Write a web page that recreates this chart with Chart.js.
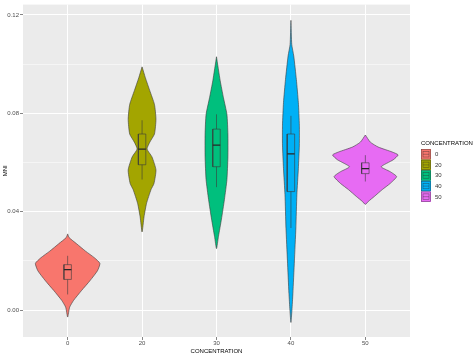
<!DOCTYPE html>
<html><head><meta charset="utf-8">
<script src="https://cdn.jsdelivr.net/npm/chart.js@4.4.0/dist/chart.umd.min.js"></script>
<style>html,body{margin:0;padding:0;background:#fff}#wrap{width:474px;height:356px;position:relative}</style>
</head><body><div id="wrap"><canvas id="c"></canvas></div>
<script>
// ---- data ----
const categories = ['0', '20', '30', '40', '50'];
const yTicks = [0, 0.02, 0.04, 0.06, 0.08, 0.10, 0.12];

// violin outlines: y values (top to bottom) and relative half-width (density)
const violinY0 = [0.031, 0.0295, 0.027, 0.024, 0.0213, 0.019, 0.016, 0.012, 0.008, 0.004, 0.0012, -0.0028];
const violinW0 = [0, 0.044, 0.267, 0.533, 0.8, 0.963, 0.889, 0.667, 0.415, 0.178, 0.059, 0];
const violinY20 = [0.0989, 0.0945, 0.0892, 0.0836, 0.0776, 0.0716, 0.0683, 0.0655, 0.0623, 0.057, 0.0515, 0.049, 0.0434, 0.038, 0.0318];
const violinW20 = [0, 0.098, 0.231, 0.370, 0.415, 0.370, 0.231, 0.148, 0.296, 0.415, 0.356, 0.267, 0.133, 0.059, 0];
const violinY30 = [0.103, 0.0933, 0.0864, 0.0796, 0.0716, 0.0623, 0.053, 0.045, 0.037, 0.030, 0.025];
const violinW30 = [0, 0.11, 0.207, 0.311, 0.341, 0.341, 0.311, 0.237, 0.148, 0.059, 0];
const violinY40 = [0.1178, 0.108, 0.1033, 0.0937, 0.0844, 0.0752, 0.0671, 0.0575, 0.047, 0.0334, 0.020, 0.0068, 0.0, -0.005];
const violinW40 = [0, 0.025, 0.085, 0.163, 0.222, 0.252, 0.252, 0.222, 0.178, 0.148, 0.104, 0.059, 0.03, 0];
const violinY50 = [0.0712, 0.0683, 0.0663, 0.0643, 0.0631, 0.0611, 0.0583, 0.0563, 0.0543, 0.0515, 0.049, 0.0462, 0.0442, 0.043];
const violinW50 = [0, 0.148, 0.385, 0.8, 0.978, 0.83, 0.474, 0.741, 0.933, 0.741, 0.504, 0.267, 0.089, 0];

// boxplot statistics
const whiskerHigh = [0.0221, 0.0772, 0.0796, 0.0790, 0.0630];
const q3 = [0.0185, 0.0716, 0.0736, 0.0716, 0.0599];
const medians = [0.0165, 0.0655, 0.0671, 0.0635, 0.0575];
const q1 = [0.0125, 0.0591, 0.0583, 0.0482, 0.0555];
const whiskerLow = [0.0064, 0.0531, 0.0500, 0.0334, 0.0523];

// ---- styling ----
const colors = ['#F8766D', '#A3A500', '#00BF7D', '#00B0F6', '#E76BF3'];
const violinYs = [violinY0, violinY20, violinY30, violinY40, violinY50];
const violinWs = [violinW0, violinW20, violinW30, violinW40, violinW50];
const MAXHALF = 0.45, BOXHALF = 0.05;
const FONT = '"Liberation Sans", Arial, sans-serif';

const datasets = [];
categories.forEach((c, i) => {
  const p = i + 1;
  const ys = violinYs[i], ws = violinWs[i];
  const pts = [];
  for (let k = 0; k < ys.length; k++) pts.push({x: p + ws[k] * MAXHALF, y: ys[k]});
  for (let k = ys.length - 2; k >= 0; k--) pts.push({x: p - ws[k] * MAXHALF, y: ys[k]});
  datasets.push({label: c, data: pts, showLine: true, fill: 'shape', backgroundColor: colors[i],
    borderColor: '#3a3a3a', borderWidth: 0.6, pointRadius: 0, tension: 0.18, order: 4});
  datasets.push({label: 'w' + c, data: [{x: p, y: whiskerLow[i]}, {x: p, y: whiskerHigh[i]}], showLine: true,
    borderColor: '#3a3a3a', borderWidth: 0.6, pointRadius: 0, fill: false, order: 3});
  datasets.push({label: 'b' + c, data: [{x: p - BOXHALF, y: q1[i]}, {x: p + BOXHALF, y: q1[i]}, {x: p + BOXHALF, y: q3[i]},
    {x: p - BOXHALF, y: q3[i]}, {x: p - BOXHALF, y: q1[i]}], showLine: true, fill: 'shape', backgroundColor: colors[i],
    borderColor: '#3a3a3a', borderWidth: 0.6, pointRadius: 0, tension: 0, order: 2});
  datasets.push({label: 'm' + c, data: [{x: p - BOXHALF, y: medians[i]}, {x: p + BOXHALF, y: medians[i]}], showLine: true,
    borderColor: '#262626', borderWidth: 1.2, pointRadius: 0, fill: false, order: 1});
});

const isMajor = v => Math.round(v / 0.02) % 2 === 0;

const panelBg = {
  id: 'panelBg',
  beforeDraw(chart) {
    const {ctx, chartArea: a} = chart;
    ctx.save();
    ctx.fillStyle = '#fff'; ctx.fillRect(0, 0, chart.width, chart.height);
    ctx.fillStyle = '#EBEBEB'; ctx.fillRect(a.left, a.top, a.right - a.left, a.bottom - a.top);
    ctx.restore();
  }
};

const ggLegend = {
  id: 'ggLegend',
  afterDraw(chart) {
    const ctx = chart.ctx;
    ctx.save();
    ctx.font = '6px ' + FONT;
    ctx.fillStyle = '#000';
    ctx.textBaseline = 'middle';
    ctx.fillText('CONCENTRATION', 421, 143);
    categories.forEach((c, i) => {
      const y0 = 149 + i * 10.6;
      ctx.fillStyle = colors[i];
      ctx.fillRect(421, y0, 10, 10.6);
      ctx.strokeStyle = 'rgba(40,40,40,0.7)'; ctx.lineWidth = 0.5;
      ctx.strokeRect(421.5, y0 + 0.5, 9, 9.6);
      ctx.strokeRect(423, y0 + 2.5, 6, 5.5);
      ctx.beginPath(); ctx.moveTo(423, y0 + 5.3); ctx.lineTo(429, y0 + 5.3); ctx.stroke();
      ctx.fillStyle = '#333';
      ctx.fillText(c, 435, y0 + 5.5);
    });
    ctx.restore();
  }
};

new Chart(document.getElementById('c'), {
  type: 'scatter',
  data: {datasets},
  plugins: [panelBg, ggLegend],
  options: {
    responsive: true, maintainAspectRatio: false, animation: false,
    layout: {padding: {top: 2, right: 64, left: 0, bottom: 0}},
    plugins: {legend: {display: false}, tooltip: {enabled: false}},
    scales: {
      x: {
        type: 'linear', min: 0.4, max: 5.6,
        afterBuildTicks: s => { s.ticks = categories.map((c, i) => ({value: i + 1})); },
        afterFit: s => { s.height = 19; },
        ticks: {callback: (v, i) => categories[i], autoSkip: false, maxRotation: 0, padding: 0,
          font: {size: 6, family: FONT}, color: '#4D4D4D'},
        grid: {color: '#fff', lineWidth: 1, tickColor: '#333', tickLength: 3, tickWidth: 0.6},
        border: {display: false},
        title: {display: true, text: 'CONCENTRATION', font: {size: 6, family: FONT}, color: '#000', padding: {top: 0, bottom: 1}}
      },
      y: {
        type: 'linear', min: -0.0109, max: 0.1242,
        afterBuildTicks: s => { s.ticks = yTicks.map(v => ({value: v})); },
        afterFit: s => { s.width = 23; },
        ticks: {callback: v => isMajor(v) ? v.toFixed(2) : '', autoSkip: false, padding: 1,
          font: {size: 6, family: FONT}, color: '#4D4D4D'},
        grid: {color: '#fff', lineWidth: c => (c.tick && isMajor(c.tick.value)) ? 1 : 0.5,
          tickColor: c => (c.tick && isMajor(c.tick.value)) ? '#333' : 'rgba(0,0,0,0)', tickLength: 3, tickWidth: 0.6},
        border: {display: false},
        title: {display: true, text: 'MNI', font: {size: 6, family: FONT}, color: '#000', padding: {top: 2, bottom: 0}}
      }
    }
  }
});
</script>
</body></html>
